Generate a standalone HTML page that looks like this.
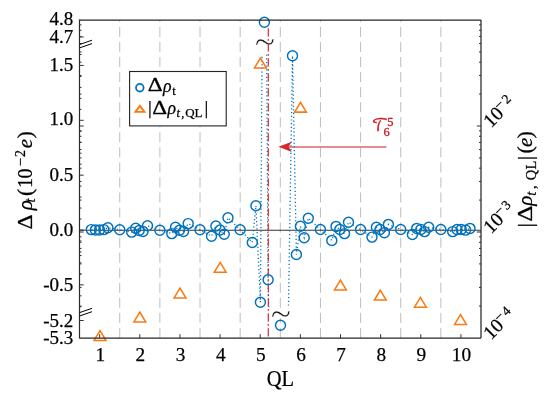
<!DOCTYPE html>
<html><head><meta charset="utf-8"><style>html,body{margin:0;padding:0;background:#fff;width:550px;height:394px;overflow:hidden}svg{display:block}text{stroke:#000;stroke-width:0.25px}</style></head>
<body>
<svg width="550" height="394" viewBox="0 0 550 394">
<rect width="550" height="394" fill="#fff"/>
<line x1="119.74" y1="338.0" x2="119.74" y2="20.0" stroke="#bdbdbd" stroke-width="1" stroke-dasharray="10.1 4.95"/>
<line x1="159.88" y1="338.0" x2="159.88" y2="20.0" stroke="#bdbdbd" stroke-width="1" stroke-dasharray="10.1 4.95"/>
<line x1="200.02" y1="338.0" x2="200.02" y2="20.0" stroke="#bdbdbd" stroke-width="1" stroke-dasharray="10.1 4.95"/>
<line x1="240.16" y1="338.0" x2="240.16" y2="20.0" stroke="#bdbdbd" stroke-width="1" stroke-dasharray="10.1 4.95"/>
<line x1="280.3" y1="338.0" x2="280.3" y2="20.0" stroke="#bdbdbd" stroke-width="1" stroke-dasharray="10.1 4.95"/>
<line x1="320.44" y1="338.0" x2="320.44" y2="20.0" stroke="#bdbdbd" stroke-width="1" stroke-dasharray="10.1 4.95"/>
<line x1="360.58" y1="338.0" x2="360.58" y2="20.0" stroke="#bdbdbd" stroke-width="1" stroke-dasharray="10.1 4.95"/>
<line x1="400.72" y1="338.0" x2="400.72" y2="20.0" stroke="#bdbdbd" stroke-width="1" stroke-dasharray="10.1 4.95"/>
<line x1="440.86" y1="338.0" x2="440.86" y2="20.0" stroke="#bdbdbd" stroke-width="1" stroke-dasharray="10.1 4.95"/>
<line x1="79.5" y1="230.2" x2="481.0" y2="230.2" stroke="#333" stroke-width="1.1"/>
<line x1="288.5" y1="147.0" x2="386.4" y2="147.0" stroke="#E06666" stroke-width="1.3"/>
<polygon points="278.4,146.85 291.8,141.8 288.7,146.85 291.8,151.9" fill="#D42A2E"/>
<defs><clipPath id="cm"><rect x="79.6" y="54.4" width="401.2" height="253"/></clipPath></defs>
<polyline clip-path="url(#cm)" points="91.30,229.60 95.40,229.90 99.50,230.00 103.80,229.60 107.90,227.80 119.74,229.70 131.70,232.10 135.70,228.20 139.20,230.50 143.00,231.50 147.50,225.70 159.88,230.30 171.80,233.60 175.50,227.30 179.50,230.20 183.50,231.50 188.20,223.60 200.02,229.80 211.50,236.20 215.90,226.00 220.00,230.00 224.20,234.30 228.00,217.80 240.16,229.70 252.30,242.50 255.90,205.80 260.40,302.20 264.40,-295.24 268.10,279.70 280.50,803.40 292.50,55.80 296.40,254.50 300.40,226.20 304.20,237.80 308.30,218.20 320.44,229.50 331.80,240.40 336.00,226.40 339.80,229.50 344.50,233.60 348.50,222.20 360.58,229.50 372.00,237.10 376.40,227.30 380.00,229.50 384.40,232.70 388.40,224.40 400.72,229.50 412.40,234.50 416.70,228.40 420.80,229.50 424.60,231.60 428.70,227.30 440.86,229.50 452.70,231.60 457.00,229.50 461.20,229.50 465.60,230.10 470.00,228.40" fill="none" stroke="#0072BD" stroke-width="1.3" stroke-dasharray="1.2 2.5"/>
<rect x="255.9" y="37.5" width="18" height="8" fill="#fff"/>
<text x="254.75" y="53.87" font-family="Liberation Serif, serif" font-size="37.6" fill="#111" style="stroke:#fff;stroke-width:0.55px">~</text>
<rect x="271.9" y="310.0" width="18" height="8" fill="#fff"/>
<text x="270.75" y="326.37" font-family="Liberation Serif, serif" font-size="37.6" fill="#111" style="stroke:#fff;stroke-width:0.55px">~</text>
<line x1="268.3" y1="28.3" x2="268.3" y2="338.0" stroke="#DA2A2E" stroke-width="1.2" stroke-dasharray="8.2 2.6 1.6 2.6"/>
<circle cx="91.30" cy="229.60" r="5" fill="none" stroke="#0072BD" stroke-width="1.45"/>
<circle cx="95.40" cy="229.90" r="5" fill="none" stroke="#0072BD" stroke-width="1.45"/>
<circle cx="99.50" cy="230.00" r="5" fill="none" stroke="#0072BD" stroke-width="1.45"/>
<circle cx="103.80" cy="229.60" r="5" fill="none" stroke="#0072BD" stroke-width="1.45"/>
<circle cx="107.90" cy="227.80" r="5" fill="none" stroke="#0072BD" stroke-width="1.45"/>
<circle cx="119.74" cy="229.70" r="5" fill="none" stroke="#0072BD" stroke-width="1.45"/>
<circle cx="131.70" cy="232.10" r="5" fill="none" stroke="#0072BD" stroke-width="1.45"/>
<circle cx="135.70" cy="228.20" r="5" fill="none" stroke="#0072BD" stroke-width="1.45"/>
<circle cx="139.20" cy="230.50" r="5" fill="none" stroke="#0072BD" stroke-width="1.45"/>
<circle cx="143.00" cy="231.50" r="5" fill="none" stroke="#0072BD" stroke-width="1.45"/>
<circle cx="147.50" cy="225.70" r="5" fill="none" stroke="#0072BD" stroke-width="1.45"/>
<circle cx="159.88" cy="230.30" r="5" fill="none" stroke="#0072BD" stroke-width="1.45"/>
<circle cx="171.80" cy="233.60" r="5" fill="none" stroke="#0072BD" stroke-width="1.45"/>
<circle cx="175.50" cy="227.30" r="5" fill="none" stroke="#0072BD" stroke-width="1.45"/>
<circle cx="179.50" cy="230.20" r="5" fill="none" stroke="#0072BD" stroke-width="1.45"/>
<circle cx="183.50" cy="231.50" r="5" fill="none" stroke="#0072BD" stroke-width="1.45"/>
<circle cx="188.20" cy="223.60" r="5" fill="none" stroke="#0072BD" stroke-width="1.45"/>
<circle cx="200.02" cy="229.80" r="5" fill="none" stroke="#0072BD" stroke-width="1.45"/>
<circle cx="211.50" cy="236.20" r="5" fill="none" stroke="#0072BD" stroke-width="1.45"/>
<circle cx="215.90" cy="226.00" r="5" fill="none" stroke="#0072BD" stroke-width="1.45"/>
<circle cx="220.00" cy="230.00" r="5" fill="none" stroke="#0072BD" stroke-width="1.45"/>
<circle cx="224.20" cy="234.30" r="5" fill="none" stroke="#0072BD" stroke-width="1.45"/>
<circle cx="228.00" cy="217.80" r="5" fill="none" stroke="#0072BD" stroke-width="1.45"/>
<circle cx="240.16" cy="229.70" r="5" fill="none" stroke="#0072BD" stroke-width="1.45"/>
<circle cx="252.30" cy="242.50" r="5" fill="none" stroke="#0072BD" stroke-width="1.45"/>
<circle cx="255.90" cy="205.80" r="5" fill="none" stroke="#0072BD" stroke-width="1.45"/>
<circle cx="260.40" cy="302.20" r="5" fill="none" stroke="#0072BD" stroke-width="1.45"/>
<circle cx="264.40" cy="22.30" r="5" fill="none" stroke="#0072BD" stroke-width="1.45"/>
<circle cx="268.10" cy="279.70" r="5" fill="none" stroke="#0072BD" stroke-width="1.45"/>
<circle cx="280.50" cy="325.20" r="5" fill="none" stroke="#0072BD" stroke-width="1.45"/>
<circle cx="292.50" cy="55.80" r="5" fill="none" stroke="#0072BD" stroke-width="1.45"/>
<circle cx="296.40" cy="254.50" r="5" fill="none" stroke="#0072BD" stroke-width="1.45"/>
<circle cx="300.40" cy="226.20" r="5" fill="none" stroke="#0072BD" stroke-width="1.45"/>
<circle cx="304.20" cy="237.80" r="5" fill="none" stroke="#0072BD" stroke-width="1.45"/>
<circle cx="308.30" cy="218.20" r="5" fill="none" stroke="#0072BD" stroke-width="1.45"/>
<circle cx="320.44" cy="229.50" r="5" fill="none" stroke="#0072BD" stroke-width="1.45"/>
<circle cx="331.80" cy="240.40" r="5" fill="none" stroke="#0072BD" stroke-width="1.45"/>
<circle cx="336.00" cy="226.40" r="5" fill="none" stroke="#0072BD" stroke-width="1.45"/>
<circle cx="339.80" cy="229.50" r="5" fill="none" stroke="#0072BD" stroke-width="1.45"/>
<circle cx="344.50" cy="233.60" r="5" fill="none" stroke="#0072BD" stroke-width="1.45"/>
<circle cx="348.50" cy="222.20" r="5" fill="none" stroke="#0072BD" stroke-width="1.45"/>
<circle cx="360.58" cy="229.50" r="5" fill="none" stroke="#0072BD" stroke-width="1.45"/>
<circle cx="372.00" cy="237.10" r="5" fill="none" stroke="#0072BD" stroke-width="1.45"/>
<circle cx="376.40" cy="227.30" r="5" fill="none" stroke="#0072BD" stroke-width="1.45"/>
<circle cx="380.00" cy="229.50" r="5" fill="none" stroke="#0072BD" stroke-width="1.45"/>
<circle cx="384.40" cy="232.70" r="5" fill="none" stroke="#0072BD" stroke-width="1.45"/>
<circle cx="388.40" cy="224.40" r="5" fill="none" stroke="#0072BD" stroke-width="1.45"/>
<circle cx="400.72" cy="229.50" r="5" fill="none" stroke="#0072BD" stroke-width="1.45"/>
<circle cx="412.40" cy="234.50" r="5" fill="none" stroke="#0072BD" stroke-width="1.45"/>
<circle cx="416.70" cy="228.40" r="5" fill="none" stroke="#0072BD" stroke-width="1.45"/>
<circle cx="420.80" cy="229.50" r="5" fill="none" stroke="#0072BD" stroke-width="1.45"/>
<circle cx="424.60" cy="231.60" r="5" fill="none" stroke="#0072BD" stroke-width="1.45"/>
<circle cx="428.70" cy="227.30" r="5" fill="none" stroke="#0072BD" stroke-width="1.45"/>
<circle cx="440.86" cy="229.50" r="5" fill="none" stroke="#0072BD" stroke-width="1.45"/>
<circle cx="452.70" cy="231.60" r="5" fill="none" stroke="#0072BD" stroke-width="1.45"/>
<circle cx="457.00" cy="229.50" r="5" fill="none" stroke="#0072BD" stroke-width="1.45"/>
<circle cx="461.20" cy="229.50" r="5" fill="none" stroke="#0072BD" stroke-width="1.45"/>
<circle cx="465.60" cy="230.10" r="5" fill="none" stroke="#0072BD" stroke-width="1.45"/>
<circle cx="470.00" cy="228.40" r="5" fill="none" stroke="#0072BD" stroke-width="1.45"/>
<polygon points="100.0,330.6 94.1,340.4 105.9,340.4" fill="none" stroke="#FA7A12" stroke-width="1.55"/>
<polygon points="139.8,312.1 133.9,321.9 145.7,321.9" fill="none" stroke="#FA7A12" stroke-width="1.55"/>
<polygon points="180.0,288.1 174.1,297.9 185.9,297.9" fill="none" stroke="#FA7A12" stroke-width="1.55"/>
<polygon points="220.2,262.4 214.3,272.2 226.1,272.2" fill="none" stroke="#FA7A12" stroke-width="1.55"/>
<polygon points="260.4,58.1 254.5,67.9 266.3,67.9" fill="none" stroke="#FA7A12" stroke-width="1.55"/>
<polygon points="300.5,102.3 294.6,112.1 306.4,112.1" fill="none" stroke="#FA7A12" stroke-width="1.55"/>
<polygon points="340.4,280.1 334.5,289.9 346.3,289.9" fill="none" stroke="#FA7A12" stroke-width="1.55"/>
<polygon points="380.3,290.2 374.4,300.0 386.2,300.0" fill="none" stroke="#FA7A12" stroke-width="1.55"/>
<polygon points="420.4,297.4 414.5,307.2 426.3,307.2" fill="none" stroke="#FA7A12" stroke-width="1.55"/>
<polygon points="460.5,314.6 454.6,324.4 466.4,324.4" fill="none" stroke="#FA7A12" stroke-width="1.55"/>
<line x1="79.5" y1="20.0" x2="481.0" y2="20.0" stroke="#262626" stroke-width="1.25"/>
<line x1="79.5" y1="338.0" x2="481.0" y2="338.0" stroke="#262626" stroke-width="1.25"/>
<line x1="481.0" y1="20.0" x2="481.0" y2="338.0" stroke="#262626" stroke-width="1.25"/>
<line x1="79.5" y1="19.4" x2="79.5" y2="338.6" stroke="#2a2a2a" stroke-width="1.2"/>
<line x1="79.5" y1="306.79" x2="81.5" y2="306.79" stroke="#333" stroke-width="1"/>
<line x1="79.5" y1="295.82" x2="81.5" y2="295.82" stroke="#333" stroke-width="1"/>
<line x1="79.5" y1="284.85" x2="83.7" y2="284.85" stroke="#333" stroke-width="1"/>
<line x1="79.5" y1="273.88" x2="81.5" y2="273.88" stroke="#333" stroke-width="1"/>
<line x1="79.5" y1="262.91" x2="81.5" y2="262.91" stroke="#333" stroke-width="1"/>
<line x1="79.5" y1="251.94" x2="81.5" y2="251.94" stroke="#333" stroke-width="1"/>
<line x1="79.5" y1="240.97" x2="81.5" y2="240.97" stroke="#333" stroke-width="1"/>
<line x1="79.5" y1="230.00" x2="83.7" y2="230.00" stroke="#333" stroke-width="1"/>
<line x1="79.5" y1="219.03" x2="81.5" y2="219.03" stroke="#333" stroke-width="1"/>
<line x1="79.5" y1="208.06" x2="81.5" y2="208.06" stroke="#333" stroke-width="1"/>
<line x1="79.5" y1="197.09" x2="81.5" y2="197.09" stroke="#333" stroke-width="1"/>
<line x1="79.5" y1="186.12" x2="81.5" y2="186.12" stroke="#333" stroke-width="1"/>
<line x1="79.5" y1="175.15" x2="83.7" y2="175.15" stroke="#333" stroke-width="1"/>
<line x1="79.5" y1="164.18" x2="81.5" y2="164.18" stroke="#333" stroke-width="1"/>
<line x1="79.5" y1="153.21" x2="81.5" y2="153.21" stroke="#333" stroke-width="1"/>
<line x1="79.5" y1="142.24" x2="81.5" y2="142.24" stroke="#333" stroke-width="1"/>
<line x1="79.5" y1="131.27" x2="81.5" y2="131.27" stroke="#333" stroke-width="1"/>
<line x1="79.5" y1="120.30" x2="83.7" y2="120.30" stroke="#333" stroke-width="1"/>
<line x1="79.5" y1="109.33" x2="81.5" y2="109.33" stroke="#333" stroke-width="1"/>
<line x1="79.5" y1="98.36" x2="81.5" y2="98.36" stroke="#333" stroke-width="1"/>
<line x1="79.5" y1="87.39" x2="81.5" y2="87.39" stroke="#333" stroke-width="1"/>
<line x1="79.5" y1="76.42" x2="81.5" y2="76.42" stroke="#333" stroke-width="1"/>
<line x1="79.5" y1="65.45" x2="83.7" y2="65.45" stroke="#333" stroke-width="1"/>
<line x1="79.5" y1="54.48" x2="81.5" y2="54.48" stroke="#333" stroke-width="1"/>
<line x1="79.5" y1="37.00" x2="83.7" y2="37.00" stroke="#333" stroke-width="1"/>
<line x1="79.5" y1="320.50" x2="83.7" y2="320.50" stroke="#333" stroke-width="1"/>
<line x1="79.5" y1="306.09" x2="81.5" y2="306.09" stroke="#333" stroke-width="1"/>
<line x1="481.0" y1="306.09" x2="479.0" y2="306.09" stroke="#333" stroke-width="1"/>
<line x1="79.5" y1="287.43" x2="81.5" y2="287.43" stroke="#333" stroke-width="1"/>
<line x1="481.0" y1="287.43" x2="479.0" y2="287.43" stroke="#333" stroke-width="1"/>
<line x1="79.5" y1="274.18" x2="81.5" y2="274.18" stroke="#333" stroke-width="1"/>
<line x1="481.0" y1="274.18" x2="479.0" y2="274.18" stroke="#333" stroke-width="1"/>
<line x1="79.5" y1="263.91" x2="81.5" y2="263.91" stroke="#333" stroke-width="1"/>
<line x1="481.0" y1="263.91" x2="479.0" y2="263.91" stroke="#333" stroke-width="1"/>
<line x1="79.5" y1="255.52" x2="81.5" y2="255.52" stroke="#333" stroke-width="1"/>
<line x1="481.0" y1="255.52" x2="479.0" y2="255.52" stroke="#333" stroke-width="1"/>
<line x1="79.5" y1="248.42" x2="81.5" y2="248.42" stroke="#333" stroke-width="1"/>
<line x1="481.0" y1="248.42" x2="479.0" y2="248.42" stroke="#333" stroke-width="1"/>
<line x1="79.5" y1="242.27" x2="81.5" y2="242.27" stroke="#333" stroke-width="1"/>
<line x1="481.0" y1="242.27" x2="479.0" y2="242.27" stroke="#333" stroke-width="1"/>
<line x1="79.5" y1="236.85" x2="81.5" y2="236.85" stroke="#333" stroke-width="1"/>
<line x1="481.0" y1="236.85" x2="479.0" y2="236.85" stroke="#333" stroke-width="1"/>
<line x1="79.5" y1="232.00" x2="83.7" y2="232.00" stroke="#333" stroke-width="1"/>
<line x1="481.0" y1="232.00" x2="476.8" y2="232.00" stroke="#333" stroke-width="1"/>
<line x1="79.5" y1="200.09" x2="81.5" y2="200.09" stroke="#333" stroke-width="1"/>
<line x1="481.0" y1="200.09" x2="479.0" y2="200.09" stroke="#333" stroke-width="1"/>
<line x1="79.5" y1="181.43" x2="81.5" y2="181.43" stroke="#333" stroke-width="1"/>
<line x1="481.0" y1="181.43" x2="479.0" y2="181.43" stroke="#333" stroke-width="1"/>
<line x1="79.5" y1="168.18" x2="81.5" y2="168.18" stroke="#333" stroke-width="1"/>
<line x1="481.0" y1="168.18" x2="479.0" y2="168.18" stroke="#333" stroke-width="1"/>
<line x1="79.5" y1="157.91" x2="81.5" y2="157.91" stroke="#333" stroke-width="1"/>
<line x1="481.0" y1="157.91" x2="479.0" y2="157.91" stroke="#333" stroke-width="1"/>
<line x1="79.5" y1="149.52" x2="81.5" y2="149.52" stroke="#333" stroke-width="1"/>
<line x1="481.0" y1="149.52" x2="479.0" y2="149.52" stroke="#333" stroke-width="1"/>
<line x1="79.5" y1="142.42" x2="81.5" y2="142.42" stroke="#333" stroke-width="1"/>
<line x1="481.0" y1="142.42" x2="479.0" y2="142.42" stroke="#333" stroke-width="1"/>
<line x1="79.5" y1="136.27" x2="81.5" y2="136.27" stroke="#333" stroke-width="1"/>
<line x1="481.0" y1="136.27" x2="479.0" y2="136.27" stroke="#333" stroke-width="1"/>
<line x1="79.5" y1="130.85" x2="81.5" y2="130.85" stroke="#333" stroke-width="1"/>
<line x1="481.0" y1="130.85" x2="479.0" y2="130.85" stroke="#333" stroke-width="1"/>
<line x1="79.5" y1="126.00" x2="83.7" y2="126.00" stroke="#333" stroke-width="1"/>
<line x1="481.0" y1="126.00" x2="476.8" y2="126.00" stroke="#333" stroke-width="1"/>
<line x1="79.5" y1="94.09" x2="81.5" y2="94.09" stroke="#333" stroke-width="1"/>
<line x1="481.0" y1="94.09" x2="479.0" y2="94.09" stroke="#333" stroke-width="1"/>
<line x1="79.5" y1="75.43" x2="81.5" y2="75.43" stroke="#333" stroke-width="1"/>
<line x1="481.0" y1="75.43" x2="479.0" y2="75.43" stroke="#333" stroke-width="1"/>
<line x1="79.5" y1="62.18" x2="81.5" y2="62.18" stroke="#333" stroke-width="1"/>
<line x1="481.0" y1="62.18" x2="479.0" y2="62.18" stroke="#333" stroke-width="1"/>
<line x1="79.5" y1="51.91" x2="81.5" y2="51.91" stroke="#333" stroke-width="1"/>
<line x1="481.0" y1="51.91" x2="479.0" y2="51.91" stroke="#333" stroke-width="1"/>
<line x1="79.5" y1="43.52" x2="81.5" y2="43.52" stroke="#333" stroke-width="1"/>
<line x1="481.0" y1="43.52" x2="479.0" y2="43.52" stroke="#333" stroke-width="1"/>
<line x1="79.5" y1="36.42" x2="81.5" y2="36.42" stroke="#333" stroke-width="1"/>
<line x1="481.0" y1="36.42" x2="479.0" y2="36.42" stroke="#333" stroke-width="1"/>
<line x1="79.5" y1="30.27" x2="81.5" y2="30.27" stroke="#333" stroke-width="1"/>
<line x1="481.0" y1="30.27" x2="479.0" y2="30.27" stroke="#333" stroke-width="1"/>
<line x1="79.5" y1="24.85" x2="81.5" y2="24.85" stroke="#333" stroke-width="1"/>
<line x1="481.0" y1="24.85" x2="479.0" y2="24.85" stroke="#333" stroke-width="1"/>
<line x1="99.67" y1="338.0" x2="99.67" y2="334.2" stroke="#333" stroke-width="1"/>
<line x1="139.81" y1="338.0" x2="139.81" y2="334.2" stroke="#333" stroke-width="1"/>
<line x1="179.95" y1="338.0" x2="179.95" y2="334.2" stroke="#333" stroke-width="1"/>
<line x1="220.09" y1="338.0" x2="220.09" y2="334.2" stroke="#333" stroke-width="1"/>
<line x1="260.23" y1="338.0" x2="260.23" y2="334.2" stroke="#333" stroke-width="1"/>
<line x1="300.37" y1="338.0" x2="300.37" y2="334.2" stroke="#333" stroke-width="1"/>
<line x1="340.51" y1="338.0" x2="340.51" y2="334.2" stroke="#333" stroke-width="1"/>
<line x1="380.65" y1="338.0" x2="380.65" y2="334.2" stroke="#333" stroke-width="1"/>
<line x1="420.79" y1="338.0" x2="420.79" y2="334.2" stroke="#333" stroke-width="1"/>
<line x1="460.93" y1="338.0" x2="460.93" y2="334.2" stroke="#333" stroke-width="1"/>
<line x1="79.6" y1="44.5" x2="92" y2="40.2" stroke="#000" stroke-width="1"/>
<line x1="79.6" y1="47.9" x2="92" y2="43.6" stroke="#000" stroke-width="1"/>
<line x1="79.6" y1="312.6" x2="92" y2="308.3" stroke="#000" stroke-width="1"/>
<line x1="79.6" y1="316.0" x2="92" y2="311.7" stroke="#000" stroke-width="1"/>
<text x="73.3" y="24.7" font-family="Liberation Serif, serif" font-size="19" text-anchor="end" fill="#000">4.8</text>
<text x="73.3" y="42.9" font-family="Liberation Serif, serif" font-size="19" text-anchor="end" fill="#000">4.7</text>
<text x="73.3" y="70.7" font-family="Liberation Serif, serif" font-size="19" text-anchor="end" fill="#000">1.5</text>
<text x="73.3" y="125.0" font-family="Liberation Serif, serif" font-size="19" text-anchor="end" fill="#000">1.0</text>
<text x="73.3" y="180.8" font-family="Liberation Serif, serif" font-size="19" text-anchor="end" fill="#000">0.5</text>
<text x="73.3" y="236.0" font-family="Liberation Serif, serif" font-size="19" text-anchor="end" fill="#000">0.0</text>
<text x="73.3" y="290.8" font-family="Liberation Serif, serif" font-size="19" text-anchor="end" fill="#000">-0.5</text>
<text x="73.3" y="326.9" font-family="Liberation Serif, serif" font-size="19" text-anchor="end" fill="#000">-5.2</text>
<text x="73.3" y="344.2" font-family="Liberation Serif, serif" font-size="19" text-anchor="end" fill="#000">-5.3</text>
<text x="100.3" y="360.8" font-family="Liberation Serif, serif" font-size="19.3" text-anchor="middle" fill="#000">1</text>
<text x="140.4" y="360.8" font-family="Liberation Serif, serif" font-size="19.3" text-anchor="middle" fill="#000">2</text>
<text x="180.5" y="360.8" font-family="Liberation Serif, serif" font-size="19.3" text-anchor="middle" fill="#000">3</text>
<text x="220.7" y="360.8" font-family="Liberation Serif, serif" font-size="19.3" text-anchor="middle" fill="#000">4</text>
<text x="260.8" y="360.8" font-family="Liberation Serif, serif" font-size="19.3" text-anchor="middle" fill="#000">5</text>
<text x="301.0" y="360.8" font-family="Liberation Serif, serif" font-size="19.3" text-anchor="middle" fill="#000">6</text>
<text x="341.1" y="360.8" font-family="Liberation Serif, serif" font-size="19.3" text-anchor="middle" fill="#000">7</text>
<text x="381.2" y="360.8" font-family="Liberation Serif, serif" font-size="19.3" text-anchor="middle" fill="#000">8</text>
<text x="421.4" y="360.8" font-family="Liberation Serif, serif" font-size="19.3" text-anchor="middle" fill="#000">9</text>
<text x="461.5" y="360.8" font-family="Liberation Serif, serif" font-size="19.3" text-anchor="middle" fill="#000">10</text>
<g transform="translate(490.9,128.4) rotate(-45)">
<text x="0" y="0" font-family="Liberation Serif, serif" font-size="19.5" fill="#000">10</text>
<text x="18.50" y="-6.60" font-family="Liberation Serif, serif" font-size="14.5" fill="#000">−</text>
<text x="28.20" y="-5.60" font-family="Liberation Serif, serif" font-size="13.5" fill="#000">2</text>
</g>
<g transform="translate(490.9,234.4) rotate(-45)">
<text x="0" y="0" font-family="Liberation Serif, serif" font-size="19.5" fill="#000">10</text>
<text x="18.50" y="-6.60" font-family="Liberation Serif, serif" font-size="14.5" fill="#000">−</text>
<text x="28.07" y="-5.60" font-family="Liberation Serif, serif" font-size="13.5" fill="#000">3</text>
</g>
<g transform="translate(490.9,340.4) rotate(-45)">
<text x="0" y="0" font-family="Liberation Serif, serif" font-size="19.5" fill="#000">10</text>
<text x="18.50" y="-6.60" font-family="Liberation Serif, serif" font-size="14.5" fill="#000">−</text>
<text x="28.10" y="-5.60" font-family="Liberation Serif, serif" font-size="13.5" fill="#000">4</text>
</g>
<text x="280.4" y="385.6" font-family="Liberation Serif, serif" font-size="22.8" text-anchor="middle" fill="#000" transform="translate(280.4 0) scale(0.9 1) translate(-280.4 0)">QL</text>
<g transform="translate(32,228.7) rotate(-90)">
<text x="-0.11" y="0.00" font-family="Liberation Serif, serif" font-size="21" fill="#000" transform="translate(6.65 0) scale(1.12 1) translate(-6.65 0)">Δ</text>
<text x="18.54" y="0.00" font-family="Liberation Serif, serif" font-size="21" font-style="italic" fill="#000">ρ</text>
<text x="26.12" y="3.00" font-family="Liberation Serif, serif" font-size="14.5" font-style="italic" fill="#000">t</text>
<text x="32.71" y="0.00" font-family="Liberation Serif, serif" font-size="22" fill="#000">(</text>
<text x="40.62" y="0.00" font-family="Liberation Serif, serif" font-size="20" fill="#000">1</text>
<text x="50.20" y="0.00" font-family="Liberation Serif, serif" font-size="20" fill="#000">0</text>
<text x="62.50" y="-6.80" font-family="Liberation Serif, serif" font-size="14.5" fill="#000">−</text>
<text x="71.58" y="-6.80" font-family="Liberation Serif, serif" font-size="14" fill="#000">2</text>
<text x="80.55" y="0.00" font-family="Liberation Serif, serif" font-size="21" font-style="italic" fill="#000">e</text>
<text x="90.17" y="0.00" font-family="Liberation Serif, serif" font-size="22" fill="#000">)</text>
</g>
<g transform="translate(532,228) rotate(-90)">
<text x="0.40" y="0.00" font-family="Liberation Serif, serif" font-size="22" fill="#000">|</text>
<text x="7.43" y="0.00" font-family="Liberation Serif, serif" font-size="21.5" fill="#000" transform="translate(14.35 0) scale(1.18 1) translate(-14.35 0)">Δ</text>
<text x="22.34" y="0.00" font-family="Liberation Serif, serif" font-size="21" font-style="italic" fill="#000">ρ</text>
<text x="32.32" y="4.00" font-family="Liberation Serif, serif" font-size="14.5" font-style="italic" fill="#000">t</text>
<text x="39.07" y="4.00" font-family="Liberation Serif, serif" font-size="14.5" fill="#000">,</text>
<text x="47.89" y="4.00" font-family="Liberation Serif, serif" font-size="14.5" fill="#000">Q</text>
<text x="58.40" y="4.00" font-family="Liberation Serif, serif" font-size="14.5" fill="#000">L</text>
<text x="67.80" y="0.00" font-family="Liberation Serif, serif" font-size="22" fill="#000">|</text>
<text x="74.61" y="0.00" font-family="Liberation Serif, serif" font-size="22" fill="#000">(</text>
<text x="81.05" y="0.00" font-family="Liberation Serif, serif" font-size="21" font-style="italic" fill="#000">e</text>
<text x="89.47" y="0.00" font-family="Liberation Serif, serif" font-size="22" fill="#000">)</text>
</g>
<rect x="129.6" y="71.5" width="96.6" height="54.4" fill="#fff" stroke="#222" stroke-width="1.1"/>
<circle cx="139.8" cy="87.7" r="3.8" fill="none" stroke="#0072BD" stroke-width="1.8"/>
<polygon points="139.9,105.9 135.4,111.9 144.4,111.9" fill="none" stroke="#FA7A12" stroke-width="1.9"/>
<text x="149.47" y="91.50" font-family="Liberation Serif, serif" font-size="17.8" fill="#000" transform="translate(155.20 0) scale(1.3 1) translate(-155.20 0)">Δ</text>
<text x="163.02" y="91.50" font-family="Liberation Serif, serif" font-size="17.8" font-style="italic" fill="#000">ρ</text>
<text x="172.14" y="94.70" font-family="Liberation Serif, serif" font-size="12.5" fill="#000">t</text>
<text x="148.05" y="114.20" font-family="Liberation Serif, serif" font-size="19" fill="#000">|</text>
<text x="154.02" y="114.00" font-family="Liberation Serif, serif" font-size="17.8" fill="#000" transform="translate(159.75 0) scale(1.3 1) translate(-159.75 0)">Δ</text>
<text x="167.57" y="114.00" font-family="Liberation Serif, serif" font-size="17.8" font-style="italic" fill="#000">ρ</text>
<text x="176.46" y="117.00" font-family="Liberation Serif, serif" font-size="12.5" font-style="italic" fill="#000">t</text>
<text x="181.19" y="117.00" font-family="Liberation Serif, serif" font-size="12.5" fill="#000">,</text>
<text x="185.2" y="117.0" font-family="Liberation Serif, serif" font-size="13" fill="#000">QL</text>
<text x="204.60" y="114.20" font-family="Liberation Serif, serif" font-size="19" fill="#000">|</text>
<text x="371.8" y="131.3" font-family="DejaVu Math TeX Gyre, Liberation Serif, serif" font-size="15.9" fill="#D4161E" style="stroke:#D4161E;stroke-width:0.3px">&#119983;</text>
<text x="383.49" y="135.90" font-family="Liberation Serif, serif" font-size="12.5" fill="#D4161E" style="stroke:#D4161E;stroke-width:0.3px">6</text>
<text x="387.26" y="125.90" font-family="Liberation Serif, serif" font-size="12.5" fill="#D4161E" style="stroke:#D4161E;stroke-width:0.3px">5</text>
</svg>
</body></html>
